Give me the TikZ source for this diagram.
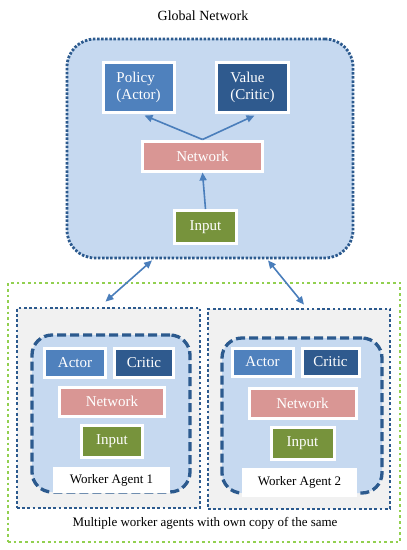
\documentclass[tikz,border=0pt]{standalone}
\usepackage{fontspec}
\setmainfont{Liberation Serif}
\usetikzlibrary{arrows.meta,calc}
\definecolor{gfill}{HTML}{C6D9F0}
\definecolor{dkblue}{HTML}{2C5A8E}
\definecolor{actorc}{HTML}{4F81BD}
\definecolor{criticc}{HTML}{2F5A8E}
\definecolor{netc}{HTML}{D99694}
\definecolor{inc}{HTML}{77933C}
\definecolor{greenc}{HTML}{92D050}
\definecolor{grayc}{HTML}{F1F1F1}
\definecolor{arrowc}{HTML}{4A7EBB}
\tikzset{
  gbox/.style={draw=dkblue, line width=2.8pt, dash pattern=on 2.5pt off 1.6pt, fill=gfill, rounded corners=28pt, inner sep=0pt},
  wbox/.style={draw=dkblue, line width=2.8pt, dash pattern=on 2.7pt off 2.5pt, fill=grayc, inner sep=0pt},
  greenbox/.style={draw=greenc, line width=2.8pt, dash pattern=on 2.7pt off 3pt, inner sep=0pt},
  inbox/.style={draw=dkblue, fill=gfill, line width=3.3pt, dash pattern=on 9pt off 4pt, rounded corners=20pt, inner sep=0pt},
  cbox/.style={draw=white, line width=3pt, text=white, inner sep=0pt, font=\fontsize{15}{17}\selectfont},
  lbox/.style={fill=white, inner sep=0pt, font=\fontsize{13}{15}\selectfont},
  arr/.style={draw=arrowc, line width=1.6pt, -{Triangle[length=8pt,width=7pt]}},
  barr/.style={draw=arrowc, line width=1.6pt, {Triangle[length=8pt,width=7pt]}-{Triangle[length=8pt,width=7pt]}}
}
\begin{document}
\begin{tikzpicture}[x=1pt,y=-1pt]
\useasboundingbox (0,0) rectangle (407,550);
\fill[white] (0,0) rectangle (407,550);
% title
\node[font=\fontsize{14}{16}\selectfont] (title) at (203,16) {Global Network};
% global network
\node[gbox, minimum width=286pt, minimum height=219pt] (global) at (210,148.5) {};
\node[cbox, fill=actorc, minimum width=71pt, minimum height=50pt, align=left] (policy) at (138.5,87) {Policy\\(Actor)};
\node[cbox, fill=criticc, minimum width=72pt, minimum height=50pt, align=left] (value) at (252.5,87) {Value\\(Critic)};
\node[cbox, fill=netc, minimum width=120pt, minimum height=30pt] (network) at (202.5,156) {Network};
\node[cbox, fill=inc, minimum width=62pt, minimum height=33pt] (input) at (205.5,227) {Input};
\draw[arr] (network.north) -- ($(policy.south)+(6,2)$);
\draw[arr] (network.north) -- ($(value.south)+(2,2)$);
\draw[arr] (input.north) -- (network.south);
% workers container
\node[greenbox, minimum width=392pt, minimum height=259pt] (workers) at (204,412.5) {};
\node[font=\fontsize{13}{15}\selectfont] (caption) at (205,523) {Multiple worker agents with own copy of the same};
% worker 1
\node[wbox, minimum width=183pt, minimum height=200pt] (w1) at (108.5,408) {};
\node[inbox, minimum width=158pt, minimum height=157pt] (w1in) at (111,413.5) {};
\node[cbox, fill=actorc, minimum width=61pt, minimum height=29pt] (a1) at (75,362.5) {Actor};
\node[cbox, fill=criticc, minimum width=59pt, minimum height=29pt] (c1) at (144,362.5) {Critic};
\node[cbox, fill=netc, minimum width=105pt, minimum height=29pt] (n1) at (112,401.5) {Network};
\node[cbox, fill=inc, minimum width=61pt, minimum height=32pt] (i1) at (112,441) {Input};
\node[lbox, minimum width=117pt, minimum height=26pt] (l1) at (111.5,480) {Worker Agent 1};
% worker 2
\node[wbox, minimum width=182pt, minimum height=200pt] (w2) at (299,409) {};
\node[inbox, minimum width=160pt, minimum height=155pt] (w2in) at (302,415.5) {};
\node[cbox, fill=actorc, minimum width=61pt, minimum height=28pt] (a2) at (262.5,362) {Actor};
\node[cbox, fill=criticc, minimum width=57pt, minimum height=28pt] (c2) at (330.5,362) {Critic};
\node[cbox, fill=netc, minimum width=107pt, minimum height=30pt] (n2) at (302.5,403) {Network};
\node[cbox, fill=inc, minimum width=63pt, minimum height=32pt] (i2) at (302.5,443) {Input};
\node[lbox, minimum width=115pt, minimum height=29pt] (l2) at (299.5,482.5) {Worker Agent 2};
% links
\coordinate (g1) at ($(global.south)+(-58,1)$);
\coordinate (g2) at ($(global.south)+(58,1)$);
\coordinate (e1) at ($(w1.north)+(-3,-5)$);
\coordinate (e2) at ($(w2.north)+(5,-3)$);
\draw[barr] (g1) -- (e1);
\draw[barr] (g2) -- (e2);
\end{tikzpicture}
\end{document}
